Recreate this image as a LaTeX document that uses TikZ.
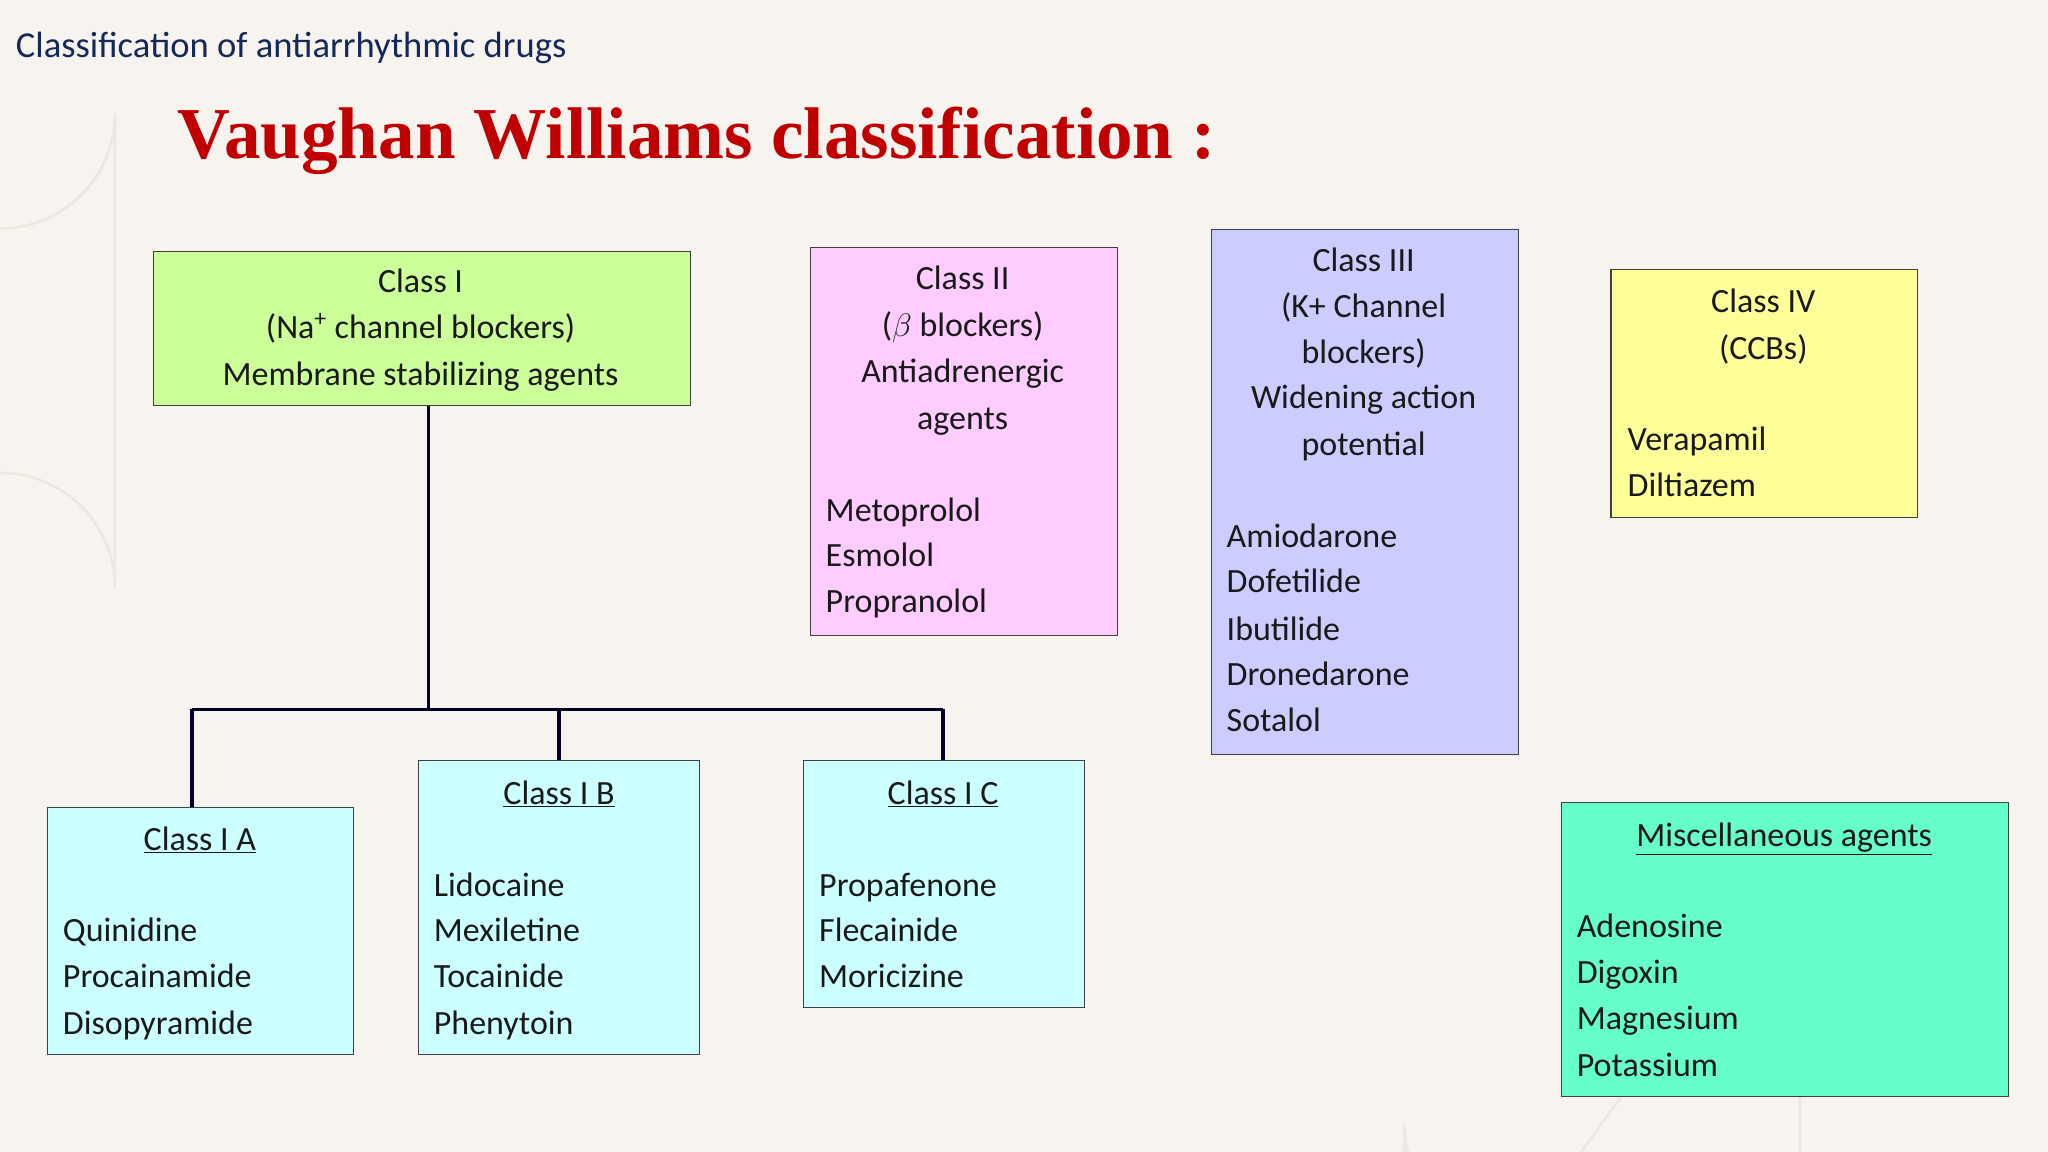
\documentclass[tikz,border=0pt]{standalone}
\usepackage{fontspec}
\setmainfont{Carlito}
\newfontfamily\titlefont{Liberation Serif}
\begin{document}
\begin{tikzpicture}[x=1pt,y=-1pt,
  box/.style={draw=black!75,line width=0.8pt,anchor=north west,inner sep=0},
  t/.style={anchor=base,inner sep=0,font=\fontsize{26}{30}\selectfont,text=black!90},
  l/.style={anchor=base west,inner sep=0,font=\fontsize{26}{30}\selectfont,text=black!90},
  conn/.style={line width=2.6pt,draw=black!85!blue}]
\fill[fill={rgb,255:red,247;green,244;blue,239}] (0,0) rectangle (1568,882);
\useasboundingbox (0,0) rectangle (1568,882);
\draw[line width=2pt,color={rgb,255:red,236;green,231;blue,224}] (0,175) arc[start angle=90,end angle=0,radius=88] -- (88,450) arc[start angle=0,end angle=-90,radius=88];
\draw[line width=2pt,color={rgb,255:red,236;green,231;blue,224}] (1075,882) -- (1075,860) arc[start angle=180,end angle=90,radius=88] -- (1290,772) arc[start angle=90,end angle=0,radius=88] -- (1378,882);
\node[anchor=base west,inner sep=0,font=\fontsize{28}{32}\selectfont,text={rgb,255:red,20;green,40;blue,90}] (hdr) at (12,44) {Classification of antiarrhythmic drugs};
\node[anchor=base west,inner sep=0,font=\titlefont\bfseries\fontsize{56}{60}\selectfont,text={rgb,255:red,192;green,0;blue,0}] (title) at (136,121) {Vaughan Williams classification :};
% boxes
\node[box,fill={rgb,255:red,204;green,255;blue,153},minimum width=411,minimum height=118] (c1) at (117,192) {};
\node[box,fill={rgb,255:red,255;green,204;blue,255},minimum width=235,minimum height=297] (c2) at (620,189) {};
\node[box,fill={rgb,255:red,204;green,204;blue,255},minimum width=235,minimum height=402] (c3) at (927,175) {};
\node[box,fill={rgb,255:red,255;green,255;blue,153},minimum width=235,minimum height=190] (c4) at (1233,206) {};
\node[box,fill={rgb,255:red,204;green,255;blue,255},minimum width=234,minimum height=189] (ca) at (36,618) {};
\node[box,fill={rgb,255:red,204;green,255;blue,255},minimum width=215,minimum height=225] (cb) at (320,582) {};
\node[box,fill={rgb,255:red,204;green,255;blue,255},minimum width=215,minimum height=189] (cc) at (615,582) {};
\node[box,fill={rgb,255:red,102;green,255;blue,204},minimum width=342,minimum height=225] (cm) at (1195,614) {};
% connectors
\coordinate (j) at (328,543);
\coordinate (ja) at (147,543);
\coordinate (jb) at (428,543);
\coordinate (jc) at (722,543);
\draw[conn] (c1.south -| j) -- (j);
\draw[conn] (ja) -- (jc);
\draw[conn] (ja) -- (ja |- ca.north);
\draw[conn] (jb) -- (jb |- cb.north);
\draw[conn] (jc) -- (jc |- cc.north);
% texts
\node[t] (t1a) at (322,224) {Class I};
\node[t] (t1b) at (322,259) {(Na\textsuperscript{+} channel blockers)};
\node[t] (t1c) at (322,295) {Membrane stabilizing agents};
\node[t] (t2a) at (737,222) {Class II};
\node[t] (t2b) at (737,258) {($\beta$ blockers)};
\node[t] (t2c) at (737,293) {Antiadrenergic};
\node[t] (t2d) at (737,329) {agents};
\node[l] (t2e) at (632,399) {Metoprolol};
\node[l] (t2f) at (632,434) {Esmolol};
\node[l] (t2g) at (632,469) {Propranolol};
\node[t] (t3a) at (1044,208) {Class III};
\node[t] (t3b) at (1044,243) {(K+ Channel};
\node[t] (t3c) at (1044,278) {blockers)};
\node[t] (t3d) at (1044,313) {Widening action};
\node[t] (t3e) at (1044,349) {potential};
\node[l] (t3f) at (939,419) {Amiodarone};
\node[l] (t3g) at (939,454) {Dofetilide};
\node[l] (t3h) at (939,490) {Ibutilide};
\node[l] (t3i) at (939,525) {Dronedarone};
\node[l] (t3j) at (939,560) {Sotalol};
\node[t] (t4a) at (1350,239) {Class IV};
\node[t] (t4b) at (1350,275) {(CCBs)};
\node[l] (t4c) at (1246,345) {Verapamil};
\node[l] (t4d) at (1246,380) {Diltiazem};
\node[t] (tAa) at (153,651) {\underline{Class I A}};
\node[l] (tAb) at (48,721) {Quinidine};
\node[l] (tAc) at (48,756) {Procainamide};
\node[l] (tAd) at (48,792) {Disopyramide};
\node[t] (tBa) at (428,616) {\underline{Class I B}};
\node[l] (tBb) at (332,686) {Lidocaine};
\node[l] (tBc) at (332,721) {Mexiletine};
\node[l] (tBd) at (332,756) {Tocainide};
\node[l] (tBe) at (332,792) {Phenytoin};
\node[t] (tCa) at (722,616) {\underline{Class I C}};
\node[l] (tCb) at (627,686) {Propafenone};
\node[l] (tCc) at (627,721) {Flecainide};
\node[l] (tCd) at (627,756) {Moricizine};
\node[t] (tMa) at (1366,648) {\underline{Miscellaneous agents}};
\node[l] (tMb) at (1207,718) {Adenosine};
\node[l] (tMc) at (1207,753) {Digoxin};
\node[l] (tMd) at (1207,788) {Magnesium};
\node[l] (tMe) at (1207,824) {Potassium};
\end{tikzpicture}
\end{document}
